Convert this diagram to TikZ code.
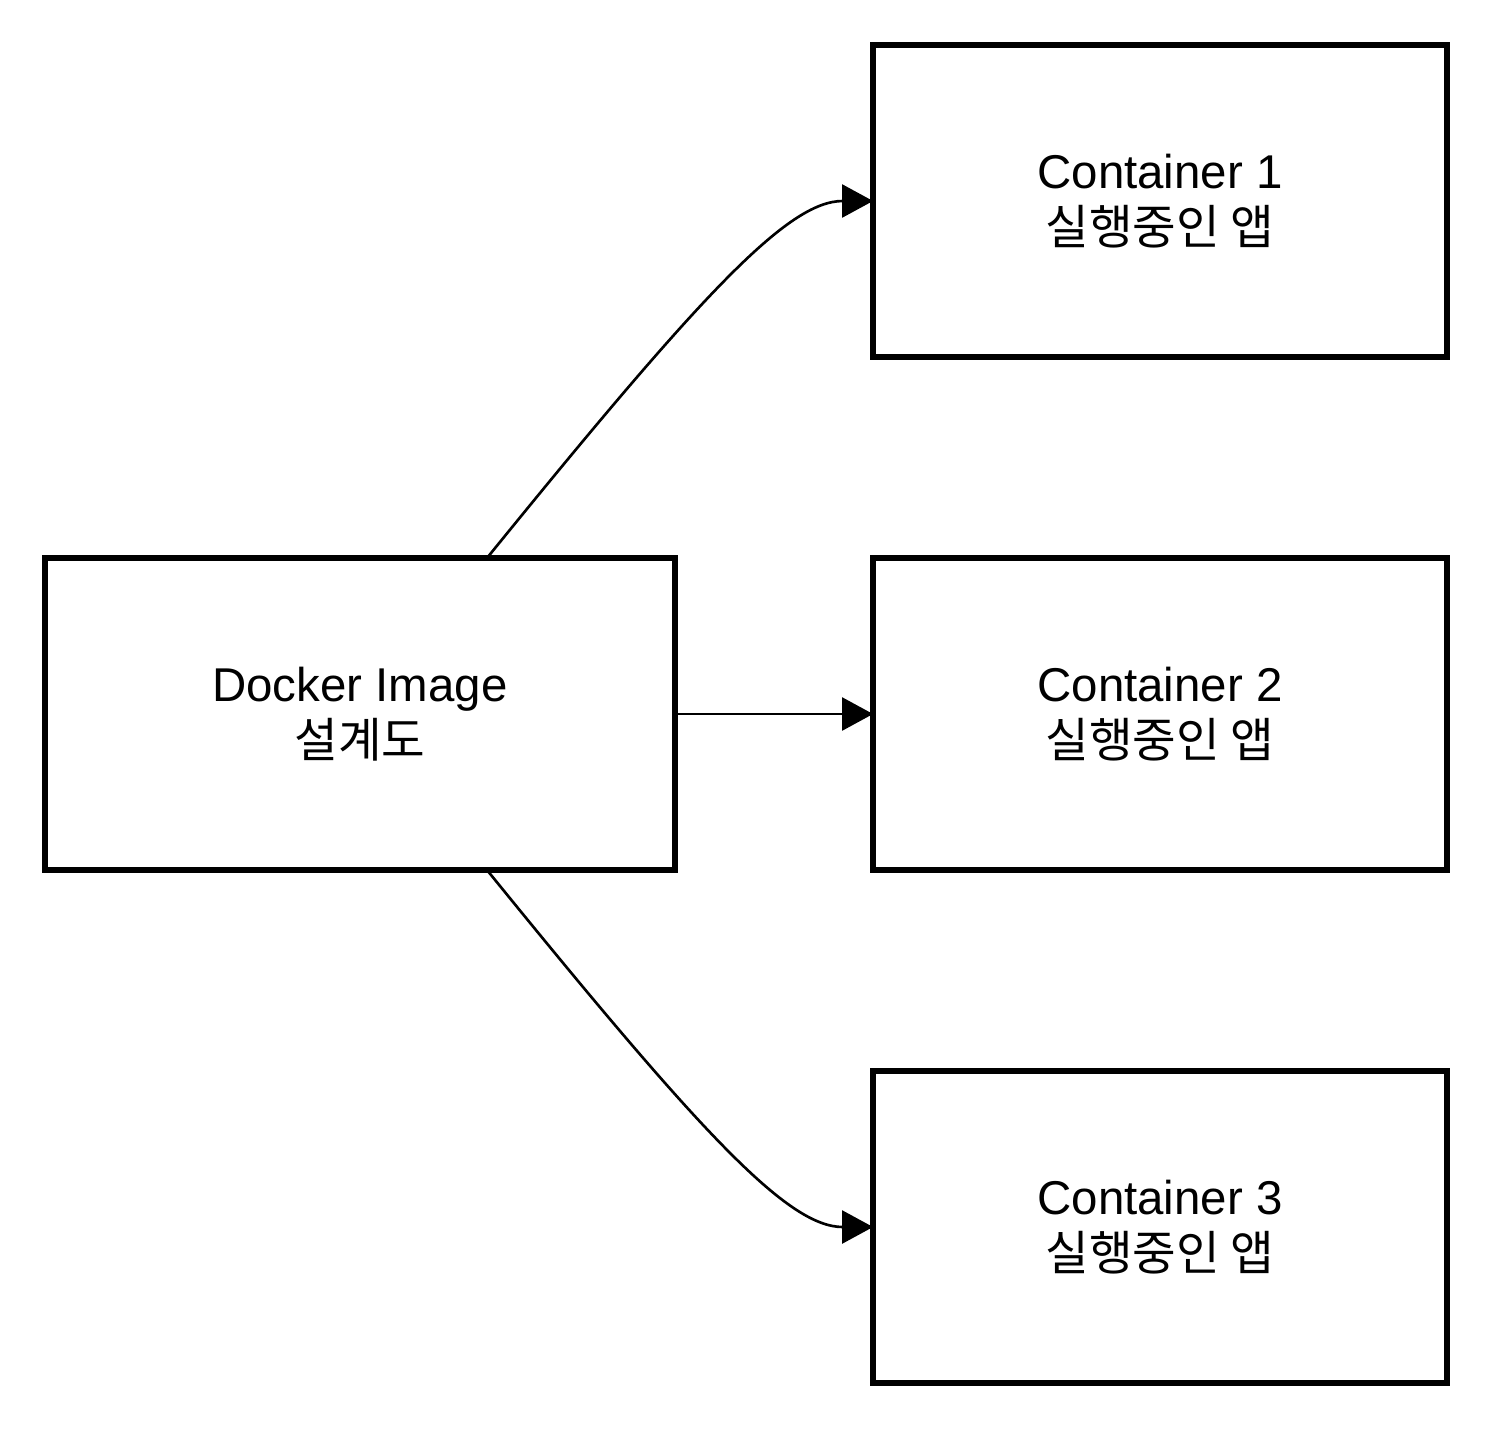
\documentclass[tikz,border=0pt]{standalone}
\usepackage{fontspec}
\setmainfont{Liberation Sans}
\newfontfamily\kr{Noto Sans CJK KR}
\usetikzlibrary{arrows.meta}
\begin{document}
\begin{tikzpicture}[x=0.02cm,y=-0.02cm,
 box/.style={draw,line width=3.2pt,rectangle,inner sep=0pt,outer sep=0pt,align=center,font=\fontsize{27}{32}\selectfont},
 arr/.style={line width=1.5pt,-{Triangle[length=0.62cm,width=0.66cm]}}]
\useasboundingbox (0,0) rectangle (1492,1428);
\node[box,minimum width=12.6cm,minimum height=6.24cm] (img) at (360,714) {Docker Image\\{\kr 설계도}};
\node[box,minimum width=11.48cm,minimum height=6.24cm] (c1) at (1160,201) {Container 1\\{\kr 실행중인 앱}};
\node[box,minimum width=11.48cm,minimum height=6.24cm] (c2) at (1160,714) {Container 2\\{\kr 실행중인 앱}};
\node[box,minimum width=11.48cm,minimum height=6.24cm] (c3) at (1160,1227) {Container 3\\{\kr 실행중인 앱}};
\draw[arr] ([xshift=2.54cm]img.north) .. controls +(215,-265) and +(-85,0) .. (c1.west);
\draw[arr] (img.east) -- (c2.west);
\draw[arr] ([xshift=2.54cm]img.south) .. controls +(215,265) and +(-85,0) .. (c3.west);
\end{tikzpicture}
\end{document}
